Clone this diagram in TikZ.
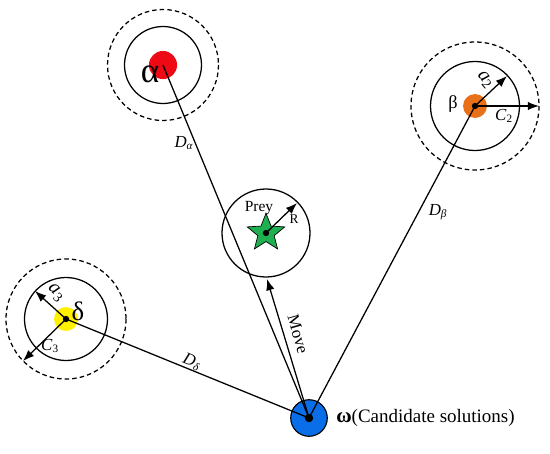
\documentclass[tikz,border=0pt]{standalone}
\usepackage{fontspec}
\setmainfont{Liberation Serif}
\usetikzlibrary{arrows.meta}
\usetikzlibrary{shapes.geometric}
\definecolor{alphared}{RGB}{238,10,20}
\definecolor{betaorange}{RGB}{232,112,24}
\definecolor{deltayellow}{RGB}{255,240,0}
\definecolor{omegablue}{RGB}{10,110,232}
\definecolor{preygreen}{RGB}{30,176,80}
\tikzset{ring/.style={draw=black, line width=0.9pt},
 outer ring/.style={ring, dash pattern=on 3.2pt off 2.2pt},
 agent/.style={circle, inner sep=0pt, minimum size=#1},
 pin dot/.style={circle, fill=black, inner sep=0pt, minimum size=#1},
 link/.style={draw, line width=0.9pt},
 reach/.style={draw, line width=0.9pt, -{Latex[length=8pt,width=6pt]}},
 tag/.style={inner sep=0pt, font=\fontsize{12}{14}\selectfont},
 }

\begin{document}
\begin{tikzpicture}[x=0.025cm, y=-0.025cm]
        \useasboundingbox (0,0) rectangle (550,453);
        % wolves and prey
        \node[agent=20pt, fill=alphared] (alpha) at (163,65) {};
        \node[agent=17pt, fill=betaorange] (beta) at (475,106) {};
        \node[agent=17pt, fill=deltayellow] (delta) at (66,319) {};
        \node[agent=26pt, fill=omegablue, draw=black, line width=0.8pt] (omega) at (309,418) {};
        \node[star, star points=5, star point ratio=2.3, minimum size=28pt, inner sep=0pt,
              fill=preygreen, draw=black, line width=0.5pt] (prey) at (266,233) {};
        \draw[ring] (alpha.center) circle[radius=38.5];
        \draw[outer ring] (alpha.center) circle[radius=55.5];
        \draw[ring] (beta.center) circle[radius=44.5];
        \draw[outer ring] (beta.center) circle[radius=64];
        \draw[ring] (delta.center) circle[radius=41.5];
        \draw[outer ring] (delta.center) circle[radius=60];
        \draw[ring] (prey.center) circle[radius=44];
        % end points of the radii
        \coordinate (a2end) at (507,76);
        \coordinate (c2end) at (539,106);
        \coordinate (a3end) at (35,291);
        \coordinate (c3end) at (23,361);
        \coordinate (rend) at (297,203);
        \coordinate (movetip) at (267,279);
        % distances
        \draw[link] (alpha.center) -- (omega.center);
        \draw[link] (beta.center) -- (omega.center);
        \draw[link] (delta.center) -- (omega.center);
        \draw[reach] (omega.center) -- (movetip);
        \draw[reach] (beta.center) -- (a2end);
        \draw[reach] (beta.center) -- (c2end);
        \draw[reach] (delta.center) -- (a3end);
        \draw[reach] (delta.center) -- (c3end);
        \draw[reach] (prey.center) -- (rend);
        \node[pin dot=4.5pt] (betapin) at (beta.center) {};
        \node[pin dot=4.5pt] (deltapin) at (delta.center) {};
        \node[pin dot=4.5pt] (preypin) at (prey.center) {};
        \node[pin dot=6pt] (omegapin) at (omega.center) {};
        % labels
        \node[tag, font=\fontsize{25}{28}\selectfont] (alphalbl) at (150,74) {α};
        \node[tag, font=\fontsize{13}{15}\selectfont] (betalbl) at (453,104) {β};
        \node[tag, font=\fontsize{19}{22}\selectfont] (deltalbl) at (78,311) {δ};
        \node[tag] (dalpha) at (184,143) {\textit{D}\textsubscript{\textit{α}}};
        \node[tag] (dbeta) at (438,212) {\textit{D}\textsubscript{\textit{β}}};
        \node[tag, rotate=-22] (ddelta) at (192,362) {\textit{D}\textsubscript{\textit{δ}}};
        \node[tag, rotate=-50, font=\fontsize{14}{16}\selectfont] (a2lbl) at (485,80) {\textit{a}\textsubscript{2}};
        \node[tag] (c2lbl) at (504,116) {\textit{C}\textsubscript{2}};
        \node[tag, rotate=-45, font=\fontsize{14}{16}\selectfont] (a3lbl) at (56,293) {\textit{a}\textsubscript{3}};
        \node[tag] (c3lbl) at (50,346) {\textit{C}\textsubscript{3}};
        \node[tag, font=\fontsize{11}{13}\selectfont] (preylbl) at (259,208) {Prey};
        \node[tag, font=\fontsize{9.5}{11}\selectfont] (rlbl) at (294,219) {R};
        \node[tag, rotate=-74, font=\fontsize{12}{14}\selectfont] (movelbl) at (298,334) {Move};
        \node[tag, anchor=west, font=\fontsize{13.5}{16}\selectfont] (omegalbl) at (336,418)
             {{\fontsize{15}{16}\selectfont\textbf{ω}}(Candidate solutions)};
    \end{tikzpicture}
\end{document}
